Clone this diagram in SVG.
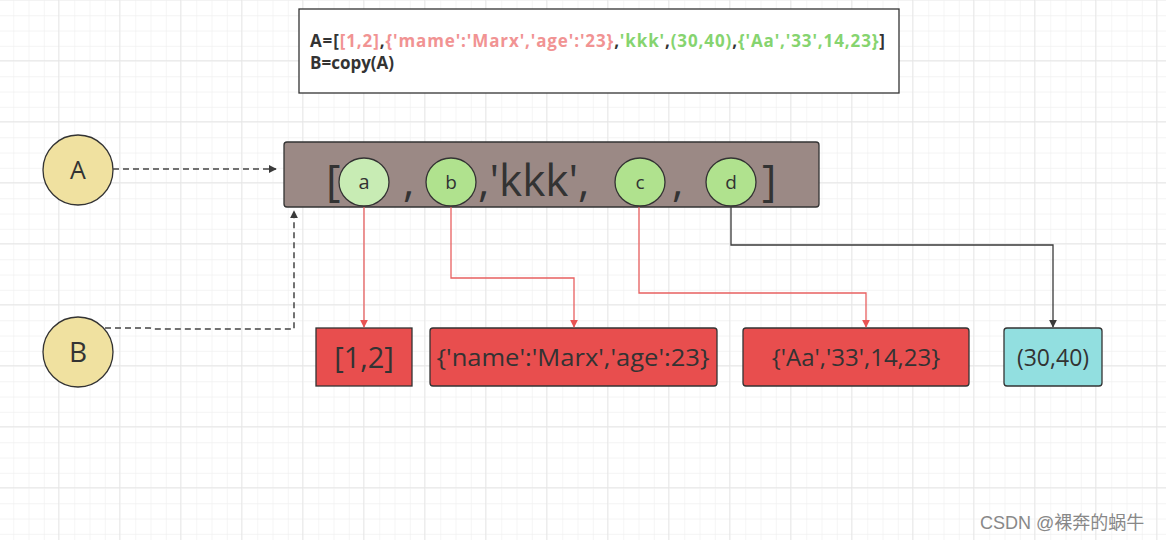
<svg xmlns="http://www.w3.org/2000/svg" width="1166" height="540" viewBox="0 0 1166 540">
<defs>
<pattern id="minor" width="15.25" height="15.25" patternUnits="userSpaceOnUse" x="-1" y="1"><path d="M15.25 0V15.25M0 15.25H15.25" fill="none" stroke="#efefef" stroke-width="1.2"/></pattern>
<pattern id="major" width="61" height="61" patternUnits="userSpaceOnUse" x="-2" y="0"><path d="M61 0V61M0 61H61" fill="none" stroke="#e6e6e6" stroke-width="1.4"/></pattern>
<marker id="ar" viewBox="0 0 10 10" refX="9" refY="5" markerWidth="8" markerHeight="8" markerUnits="userSpaceOnUse" orient="auto"><path d="M0 0L10 5L0 10z" fill="#e85454"/></marker>
<marker id="ak" viewBox="0 0 10 10" refX="9" refY="5" markerWidth="8" markerHeight="8" markerUnits="userSpaceOnUse" orient="auto"><path d="M0 0L10 5L0 10z" fill="#3a3a3a"/></marker>
</defs>
<style>
text{font-family:"Open Sans","Noto Sans","Noto Sans CJK SC",sans-serif;fill:#333}
.red{fill:#e84e4e;stroke:#333;stroke-width:1.3}
.cir{stroke:#333;stroke-width:1.3}
.rl{fill:none;stroke:#e86060;stroke-width:1.3}
.kl{fill:none;stroke:#3a3a3a;stroke-width:1.3}
.dl{fill:none;stroke:#444;stroke-width:1.5;stroke-dasharray:6 4}
</style>
<rect width="1166" height="540" fill="#fff"/>
<rect width="1166" height="540" fill="url(#minor)"/>
<rect width="1166" height="540" fill="url(#major)"/>
<g id="code">
<rect x="299" y="9" width="600" height="84" fill="#fff" stroke="#333" stroke-width="1.3"/>
<text x="310" y="47" font-size="17" font-weight="bold" textLength="575" lengthAdjust="spacing">A=[<tspan fill="#f19393">[1,2]</tspan>,<tspan fill="#f19393">{'mame':'Marx','age':'23}</tspan>,<tspan fill="#86d46f">'kkk'</tspan>,<tspan fill="#86d46f">(30,40)</tspan>,<tspan fill="#86d46f">{'Aa','33',14,23}</tspan>]</text>
<text x="310" y="69" font-size="17" font-weight="bold">B=copy(A)</text>
</g>
<g id="list">
<rect x="284" y="142" width="535" height="65" rx="3" fill="#9b8985" stroke="#333" stroke-width="1.3"/>
<text x="326" y="196" font-size="44">[</text>
<text x="403" y="196" font-size="44">,</text>
<text x="478" y="196" font-size="44">,'kkk',</text>
<text x="672" y="196" font-size="44">,</text>
<text x="762" y="196" font-size="44">]</text>
</g>
<g id="a"><ellipse cx="364" cy="182" rx="25" ry="24" fill="#c8ecb4" class="cir"/><text x="364" y="189" font-size="20" text-anchor="middle">a</text></g>
<g id="b"><ellipse cx="451" cy="182" rx="25" ry="24" fill="#b0e28e" class="cir"/><text x="451" y="189" font-size="19" text-anchor="middle">b</text></g>
<g id="c"><ellipse cx="640" cy="182" rx="25" ry="24" fill="#b0e28e" class="cir"/><text x="640" y="189" font-size="19" text-anchor="middle">c</text></g>
<g id="d"><ellipse cx="731" cy="182" rx="25" ry="24" fill="#b0e28e" class="cir"/><text x="731" y="189" font-size="19" text-anchor="middle">d</text></g>
<g id="nA"><circle cx="78" cy="170" r="35" fill="#f0e1a0" class="cir"/><text x="78" y="179" font-size="25" text-anchor="middle">A</text></g>
<g id="nB"><circle cx="78" cy="352" r="35" fill="#f0e1a0" class="cir"/><text x="78" y="362" font-size="28" text-anchor="middle">B</text></g>
<g id="n12"><rect x="316" y="328" width="96" height="58" class="red"/><text x="364" y="368" font-size="29" text-anchor="middle">[1,2]</text></g>
<g id="ndict"><rect x="430" y="328" width="287" height="58" rx="3" class="red"/><text x="573" y="366" font-size="24" text-anchor="middle" textLength="273" lengthAdjust="spacingAndGlyphs">{'name':'Marx','age':23}</text></g>
<g id="nset"><rect x="743" y="328" width="226" height="58" rx="3" class="red"/><text x="856" y="366" font-size="24" text-anchor="middle">{'Aa','33',14,23}</text></g>
<g id="ntup"><rect x="1004" y="328" width="98" height="58" rx="3" fill="#92dfe0" stroke="#333" stroke-width="1.3"/><text x="1053" y="366" font-size="23" text-anchor="middle">(30,40)</text></g>
<g id="connectors">
<path class="dl" d="M113 169H276" marker-end="url(#ak)"/>
<path class="dl" d="M105 328H150L153 329H294V211" marker-end="url(#ak)"/>
<path class="rl" d="M364 207V327" marker-end="url(#ar)"/>
<path class="rl" d="M451 207V278H574V327" marker-end="url(#ar)"/>
<path class="rl" d="M639 207V293H866V327" marker-end="url(#ar)"/>
<path class="kl" d="M731 207V245H1053V327" marker-end="url(#ak)"/>
</g>
<text x="980" y="529" font-size="18" style="fill:#888;font-family:'Liberation Sans','Noto Sans CJK SC',sans-serif">CSDN @裸奔的蜗牛</text>
</svg>
